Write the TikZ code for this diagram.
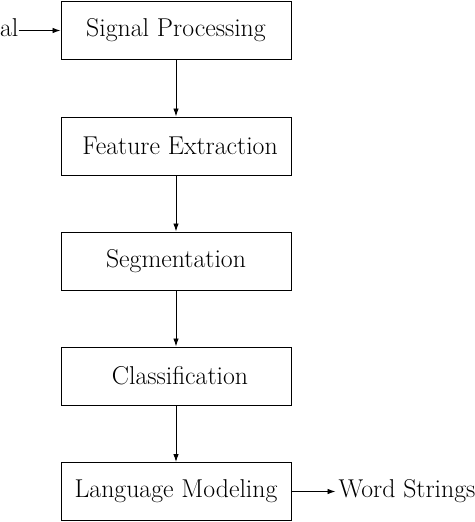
\documentclass[tikz,border=0pt]{standalone}
\usepackage{fontspec}
\usetikzlibrary{arrows.meta}
\begin{document}
\begin{tikzpicture}[x=1pt,y=-1pt,
  stagebox/.style={draw, line width=1pt, minimum width=230pt, minimum height=58pt, inner sep=0pt, font=\fontsize{25.8}{30}\selectfont},
  plaintext/.style={inner sep=0pt, font=\fontsize{25.8}{30}\selectfont},
  arr/.style={-{Latex[length=8pt,width=5.5pt]}, line width=0.9pt}]
\useasboundingbox (0,0) rectangle (474,522);
\node[stagebox] (sp) at (176,30.5) {Signal Processing\hspace{8pt}};
\node[stagebox] (fe) at (176,146) {\hspace{8pt}Feature Extraction};
\node[stagebox] (sg) at (176,261) {Segmentation};
\node[stagebox] (cl) at (176,376) {\hspace{8pt}Classification};
\node[stagebox] (lm) at (176,491.5) {Language Modeling};
\node[plaintext, anchor=east] (in) at ([xshift=-42pt]sp.west) {Signal};
\node[plaintext, anchor=west, inner sep=3pt] (out) at ([xshift=44pt]lm.east) {Word Strings};
\draw[arr] (in.east) -- (sp.west);
\draw[arr] (sp) -- (fe);
\draw[arr] (fe) -- (sg);
\draw[arr] (sg) -- (cl);
\draw[arr] (cl) -- (lm);
\draw[arr] (lm.east) -- (out.west);
\end{tikzpicture}
\end{document}
